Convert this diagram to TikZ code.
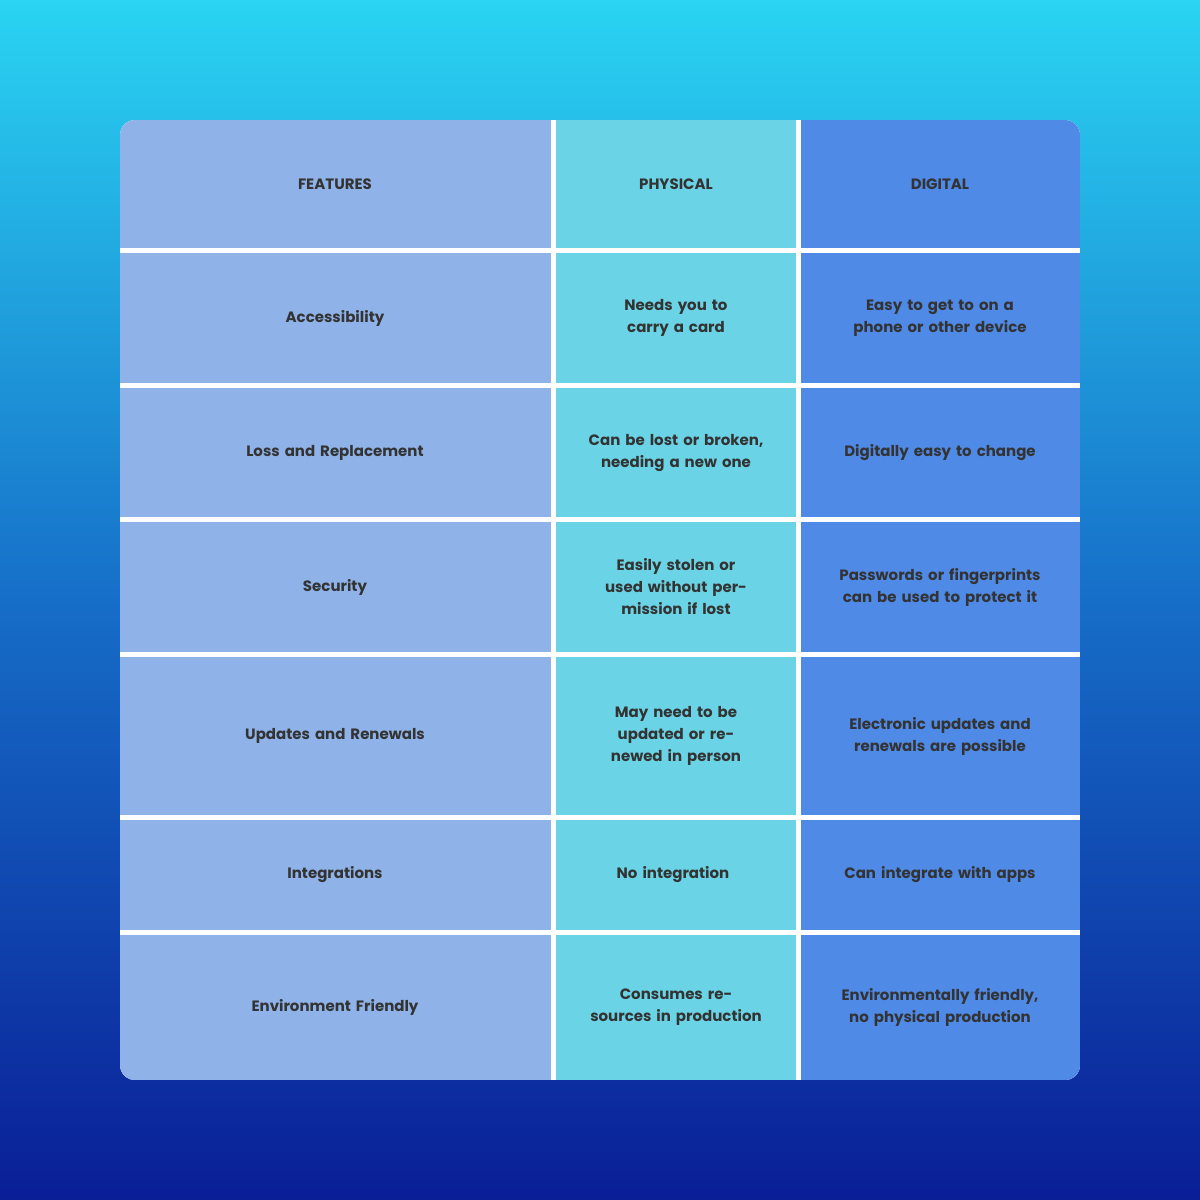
\documentclass[tikz,border=0pt]{standalone}
\usepackage{fontspec}
\setmainfont{Poppins}
\begin{document}
\begin{tikzpicture}[x=1pt,y=-1pt,
  cell/.style={align=center,font=\fontsize{15}{22}\selectfont\bfseries,text=black!80},
  c1/.style={cell,text width=400pt},
  c2/.style={cell,text width=185pt},
  c3/.style={cell,text width=215pt}]
\useasboundingbox (0,0) rectangle (1200,1200);
\shade[top color={rgb,255:red,42;green,212;blue,242},bottom color={rgb,255:red,10;green,30;blue,150},middle color={rgb,255:red,22;green,110;blue,200}] (0,0) rectangle (1200,1200);
\definecolor{ca}{RGB}{143,179,232}
\definecolor{cb}{RGB}{106,212,230}
\definecolor{cc}{RGB}{79,138,230}
\begin{scope}
\clip[rounded corners=15pt] (120,120) rectangle (1080,1080);
\fill[white] (120,120) rectangle (1080,1080);
\foreach \a/\b in {120/248,253/383,388/517,522/652,657/815,820/930,935/1080}{
  \fill[ca] (120,\a) rectangle (551,\b);
  \fill[cb] (556,\a) rectangle (796,\b);
  \fill[cc] (801,\a) rectangle (1080,\b);
}
\end{scope}
\node[c1] (h1) at (335,184) {FEATURES};
\node[c2] (h2) at (676,184) {PHYSICAL};
\node[c3] (h3) at (940,184) {DIGITAL};
\node[c1] (a1) at (335,318) {Accessibility};
\node[c2] (a2) at (676,318) {Needs you to carry a card};
\node[c3] (a3) at (940,318) {Easy to get to on a phone or other device};
\node[c1] (b1) at (335,453) {Loss and Replacement};
\node[c2] (b2) at (676,453) {Can be lost or broken, needing a new one};
\node[c3] (b3) at (940,453) {Digitally easy to change};
\node[c1] (d1) at (335,587) {Security};
\node[c2] (d2) at (676,587) {Easily stolen or used without permission if lost};
\node[c3] (d3) at (940,587) {Passwords or fingerprints can be used to protect it};
\node[c1] (e1) at (335,736) {Updates and Renewals};
\node[c2] (e2) at (676,736) {May need to be updated or renewed in person};
\node[c3] (e3) at (940,736) {Electronic updates and renewals are possible};
\node[c1] (f1) at (335,875) {Integrations};
\node[c2] (f2) at (673,875) {No integration};
\node[c3] (f3) at (940,875) {Can integrate with apps};
\node[c1] (g1) at (335,1007) {Environment Friendly};
\node[c2] (g2) at (676,1007) {Consumes resources in production};
\node[c3] (g3) at (940,1007) {Environmentally friendly, no physical production};
\end{tikzpicture}
\end{document}
